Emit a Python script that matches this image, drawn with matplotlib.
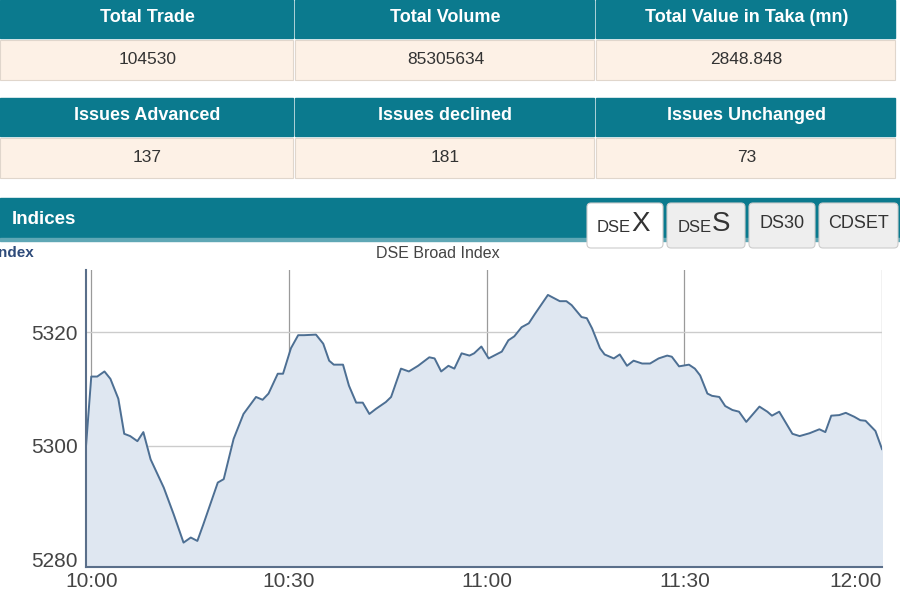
import matplotlib
matplotlib.use('Agg')
import matplotlib.pyplot as plt
from matplotlib.patches import Rectangle, FancyBboxPatch

plt.rcParams['font.family'] = ['Liberation Sans', 'DejaVu Sans']

TEAL = '#0b7a8e'
PEACH = '#fdf1e6'

# market summary
head1 = ['Total Trade', 'Total Volume', 'Total Value in Taka (mn)']
vals1 = ['104530', '85305634', '2848.848']
head2 = ['Issues Advanced', 'Issues declined', 'Issues Unchanged']
vals2 = ['137', '181', '73']
tabs = ['DSEX', 'DSES', 'DS30', 'CDSET']

# DSE Broad Index, minutes after 10:00
minutes = [-0.8, 0, 0.9, 2.0, 2.9, 4.1, 5.0, 5.9, 7.0, 7.9, 9.0, 11.0, 12.5, 14.0, 15.1, 16.1,
           17.0, 19.2, 20.1, 21.6, 23.1, 25.0, 26.0, 26.9, 28.3, 29.1, 30.3, 31.4, 32.3, 34.1,
           35.2, 36.1, 36.8, 38.2, 39.1, 40.2, 41.2, 42.2, 43.2, 44.7, 45.5, 47.0, 48.2, 49.6,
           51.3, 52.1, 53.1, 54.2, 55.1, 56.2, 57.4, 58.1, 59.2, 60.3, 62.3, 63.3, 64.2, 65.3,
           66.4, 67.3, 69.3, 71.1, 72.1, 72.9, 74.4, 75.2, 76.0, 77.2, 77.9, 79.3, 80.2, 81.3,
           82.3, 83.6, 84.8, 86.1, 87.4, 88.1, 89.2, 90.7, 91.6, 92.4, 93.5, 94.2, 95.3, 96.2,
           97.3, 98.3, 99.4, 101.4, 102.6, 103.3, 104.4, 106.4, 107.5, 109.0, 110.5, 111.4,
           112.3, 113.5, 114.5, 115.8, 116.7, 117.5, 119.0, 120.0]
index = [5299.9, 5312.2, 5312.2, 5313.1, 5311.8, 5308.3, 5302.1, 5301.7, 5300.8, 5302.4,
         5297.6, 5292.6, 5287.9, 5282.9, 5283.8, 5283.2, 5286.1, 5293.5, 5294.1, 5301.2,
         5305.6, 5308.6, 5308.1, 5309.2, 5312.7, 5312.7, 5317.2, 5319.5, 5319.5, 5319.6,
         5318.0, 5315.0, 5314.3, 5314.3, 5310.6, 5307.6, 5307.6, 5305.6, 5306.5, 5307.7,
         5308.6, 5313.6, 5313.1, 5314.1, 5315.6, 5315.4, 5313.1, 5314.1, 5313.6, 5316.3,
         5315.9, 5316.3, 5317.5, 5315.4, 5316.6, 5318.6, 5319.3, 5320.9, 5321.6, 5323.2,
         5326.6, 5325.5, 5325.5, 5324.8, 5322.7, 5322.5, 5320.7, 5317.2, 5316.1, 5315.4,
         5316.1, 5314.1, 5315.0, 5314.5, 5314.5, 5315.4, 5315.9, 5315.7, 5314.0, 5314.3,
         5313.6, 5312.4, 5309.2, 5308.8, 5308.6, 5307.0, 5306.3, 5306.0, 5304.2, 5306.9,
         5306.0, 5305.3, 5306.0, 5302.1, 5301.7, 5302.2, 5302.9, 5302.4, 5305.3, 5305.4,
         5305.8, 5305.1, 5304.5, 5304.4, 5302.6, 5299.4]
xticks = [0, 30, 60, 90, 120]
xlabels = ['10:00', '10:30', '11:00', '11:30', '12:00']
yticks = [5280, 5300, 5320]

fig = plt.figure(figsize=(9, 6), dpi=100)
bg = fig.add_axes([0, 0, 1, 1])
bg.set_xlim(0, 900)
bg.set_ylim(600, 0)
bg.axis('off')

cols = [0, 295, 596, 897]

def table(top, heads, vals):
    for i in range(3):
        x0, x1 = cols[i], cols[i + 1]
        bg.add_patch(Rectangle((x0, top), x1 - x0 - 2, 38, color=TEAL))
        bg.add_patch(Rectangle((x0, top + 40), x1 - x0 - 2, 40, facecolor=PEACH,
                               edgecolor='#e0d6cc', lw=0.8))
        cx = (x0 + x1) / 2
        bg.text(cx, top + 18, heads[i], color='white', fontsize=13, fontweight='bold',
                ha='center', va='center')
        bg.text(cx, top + 60, vals[i], color='#333333', fontsize=12.5, ha='center', va='center')

table(0, head1, vals1)
table(98, head2, vals2)

# indices bar
bg.add_patch(Rectangle((0, 198), 900, 40, color=TEAL))
bg.add_patch(Rectangle((0, 238), 900, 3, color='#5fa7b5'))
bg.text(12, 219, 'Indices', color='white', fontsize=13.5, fontweight='bold', va='center')
tab_x = [585, 665, 747, 817, 900]
for i, t in enumerate(tabs):
    x0, x1 = tab_x[i] + 2, tab_x[i + 1] - 2
    fc = 'white' if i == 0 else '#eeeeee'
    bg.add_patch(FancyBboxPatch((x0, 203), x1 - x0, 45, boxstyle='round,pad=0,rounding_size=4',
                                facecolor=fc, edgecolor='#cccccc', lw=0.8))
    cx = (x0 + x1) / 2
    if i < 2:
        bg.text(cx + 6, 227, t[:3], color='#333333', fontsize=12, ha='right', va='center')
        bg.text(cx + 6, 224, t[3], color='#333333', fontsize=20, ha='left', va='center')
    else:
        bg.text(cx, 224, t, color='#333333', fontsize=13, ha='center', va='center')

bg.text(-2, 253, 'ndex', color='#2e4b7a', fontsize=11, fontweight='bold', va='center')
bg.text(438, 253, 'DSE Broad Index', color='#444444', fontsize=11.5, ha='center', va='center')

# chart
ax = fig.add_axes([86 / 900, 33 / 600, 796 / 900, 297 / 600])
ax.fill_between(minutes, index, 5278, color='#dfe7f1')
ax.plot(minutes, index, color='#4d6f93', lw=1.4)
ax.set_xlim(-0.8, 120)
ax.set_ylim(5278.6, 5331)
for t in xticks:
    ax.axvline(t, color='#9a9a9a', lw=0.9, zorder=0.5)
for t in yticks:
    ax.axhline(t, color='#cccccc', lw=1, zorder=0.5)
ax.set_xticks(xticks, xlabels)
ax.set_yticks(yticks)
ax.tick_params(length=0, labelsize=15, colors='#444444')
ax.tick_params(axis='y', pad=6)
ax.get_xticklabels()[-1].set_horizontalalignment('right')
ax.get_xticklabels()[-1].set_x(121.5)
for s in ['top', 'right']:
    ax.spines[s].set_visible(False)
for s in ['left', 'bottom']:
    ax.spines[s].set_color('#5a6f8a')
    ax.spines[s].set_linewidth(1.5)
ax.set_facecolor('none')

fig.savefig('out.png', dpi=100)
